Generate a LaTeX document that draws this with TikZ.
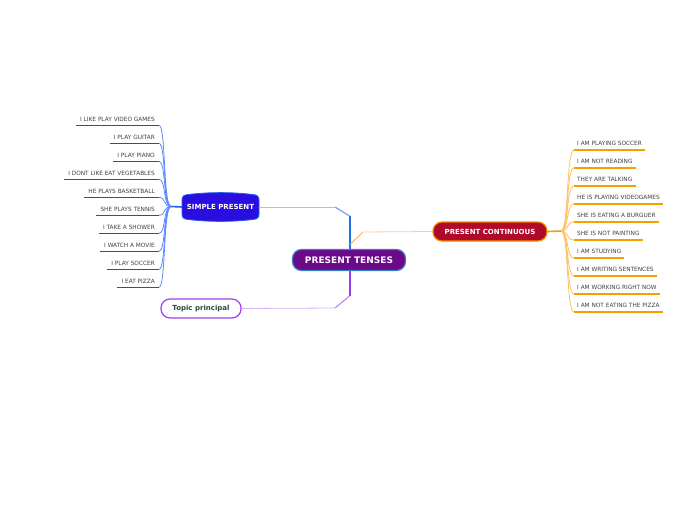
\documentclass[tikz,border=0pt]{standalone}
\usepackage{fontspec}
\setmainfont{DejaVu Sans}
\usetikzlibrary{calc}
\definecolor{cpurple}{HTML}{6A0A88}
\definecolor{cblueb}{HTML}{3A80C0}
\definecolor{cspfill}{HTML}{2A0EE0}
\definecolor{cspbord}{HTML}{2060E8}
\definecolor{cred}{HTML}{B00A2A}
\definecolor{corange}{HTML}{F58A00}
\definecolor{ctopic}{HTML}{A040F0}
\definecolor{ctopictext}{HTML}{2A4A40}
\definecolor{cleaftext}{HTML}{404040}
\definecolor{cblueline}{HTML}{1A4ADF}
\definecolor{cbluecurve}{HTML}{5A88FF}
\definecolor{corangeline}{HTML}{F5A000}
\definecolor{corangecurve}{HTML}{FFC060}
\tikzset{
  x=1pt,y=-1pt,
  central/.style={draw=cblueb,line width=1.2pt,fill=cpurple,rounded corners=9pt,
    minimum width=113pt,minimum height=21pt,inner sep=0pt,text=white,
    font=\bfseries\fontsize{9}{10}\selectfont},
  spnode/.style={minimum width=77pt,minimum height=28pt,inner sep=0pt,text=white,
    font=\bfseries\fontsize{7}{8}\selectfont},
  pcnode/.style={draw=corange,line width=1.2pt,fill=cred,rounded corners=9pt,
    minimum width=114pt,minimum height=19pt,inner sep=0pt,text=white,
    font=\bfseries\fontsize{7}{8}\selectfont},
  topicnode/.style={draw=ctopic,line width=1.2pt,fill=white,rounded corners=9pt,
    minimum width=80pt,minimum height=19pt,inner sep=0pt,text=ctopictext,
    font=\bfseries\fontsize{7}{8}\selectfont},
  leafl/.style={anchor=south east,inner xsep=4pt,inner ysep=4pt,text depth=0pt,
    text=cleaftext,font=\fontsize{5.8}{6}\selectfont},
  leafr/.style={anchor=south west,inner xsep=3pt,inner ysep=4pt,text depth=0pt,
    text=cleaftext,font=\fontsize{5.8}{6}\selectfont},
  ulblue/.style={draw=cblueline,line width=1.2pt},
  ulorange/.style={draw=corangeline,line width=1.2pt},
  cvblue/.style={draw=cbluecurve,line width=0.8pt},
  cvorange/.style={draw=corangecurve,line width=0.8pt},
}
\begin{document}
\begin{tikzpicture}
\useasboundingbox (0,0) rectangle (697,520);
\fill[white] (0,0) rectangle (697,520);

% main connectors
\coordinate (bj) at (349.5,216);
\coordinate (bk) at (335,207);
\draw[line width=2pt,draw=cspbord!90!cyan] (349.5,249) -- (bj);
\draw[line width=1.2pt,draw=cspbord!60!white] (bj) -- (bk);
\coordinate (oj) at (363,232);
\draw[line width=1pt,draw=corange!60!white] (350.5,244) -- (oj);
\coordinate (pj) at (349.5,296);
\coordinate (pk) at (335,308);
\draw[line width=2pt,draw=ctopic!95!blue] (349.5,270) -- (pj);
\draw[line width=1.2pt,draw=ctopic!60!white] (pj) -- (pk);

% simple present shape
\path[fill=cspfill,draw=cspbord,line width=0.8pt]
 (182,200) -- (182,214) .. controls (182,218) and (184,219) .. (188,219.5)
 .. controls (210,222) and (231,222) .. (253,219.5)
 .. controls (257,219) and (259,218) .. (259,214) -- (259,200)
 .. controls (259,196) and (257,195) .. (253,194.5)
 .. controls (231,192) and (210,192) .. (188,194.5)
 .. controls (184,195) and (182,196) .. (182,200) -- cycle;
\node[spnode] (sp) at (220.5,207) {SIMPLE PRESENT};

\node[central] (pt) at (349,260) {PRESENT TENSES};
\node[pcnode] (pc) at (490,231.5) {PRESENT CONTINUOUS};
\node[topicnode] (tp) at (201,308.5) {Topic principal};

\draw[draw=cspbord!40!white,line width=0.8pt] (bk) -- (sp.east);
\draw[draw=corange!40!white,line width=0.8pt] (oj) -- (pc.west);
\draw[draw=ctopic!40!white,line width=0.8pt] (pk) -- (tp.east);

% left leaves
\coordinate (lh) at (171,206.5);
\draw[line width=1.6pt,draw=cspbord] (sp.west) -- (lh);
\foreach \i/\t in {1/I LIKE PLAY VIDEO GAMES,2/I PLAY GUITAR,3/I PLAY PIANO,
  4/I DONT LIKE EAT VEGETABLES,5/HE PLAYS BASKETBALL,6/SHE PLAYS TENNIS,
  7/I TAKE A SHOWER,8/I WATCH A MOVIE,9/I PLAY SOCCER,10/I EAT PIZZA}{
  \node[leafl] (l\i) at (159,{125.3+18*(\i-1)}) {\t};
  \draw[ulblue] (l\i.south west) -- (l\i.south east);
  \draw[cvblue] (lh) .. controls (163,206.5) and (166,{125.3+18*(\i-1)}) .. (l\i.south east);
}

% right leaves
\coordinate (rh) at (561,231);
\draw[line width=1.6pt,draw=corange!80!yellow] (pc.east) -- (rh);
\foreach \i/\t in {1/I AM PLAYING SOCCER,2/I AM NOT READING,3/THEY ARE TALKING,
  4/HE IS PLAYING VIDEOGAMES,5/SHE IS EATING A BURGUER,6/SHE IS NOT PAINTING,
  7/I AM STUDYING,8/I AM WRITING SENTENCES,9/I AM WORKING RIGHT NOW,
  10/I AM NOT EATING THE PIZZA}{
  \node[leafr] (r\i) at (574,{150+18*(\i-1)}) {\t};
  \draw[ulorange] (r\i.south west) -- (r\i.south east);
  \draw[cvorange] (rh) .. controls (569,231) and (566,{150+18*(\i-1)}) .. (r\i.south west);
}
\end{tikzpicture}
\end{document}
